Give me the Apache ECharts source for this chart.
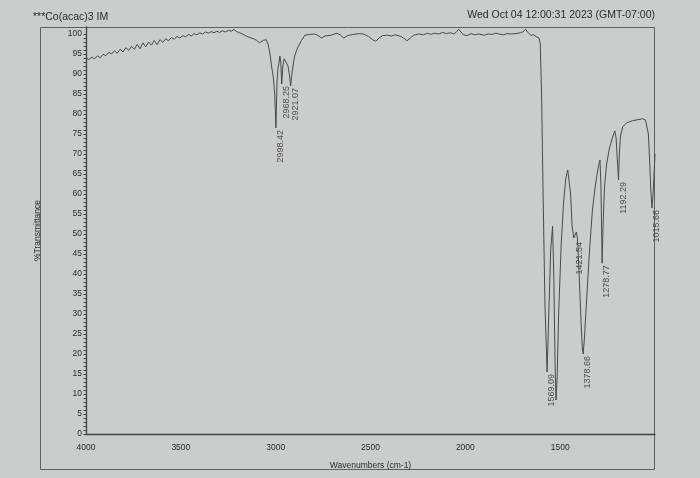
<!DOCTYPE html>
<html><head><meta charset="utf-8">
<script src="https://cdn.jsdelivr.net/npm/echarts@6/dist/echarts.min.js"></script>
<style>html,body{margin:0;padding:0;background:#c9cdcb;}#c{width:700px;height:478px;}</style>
</head><body><div id="c"></div>
<script>
// Spectrum trace (wavenumber, %T)
const wavenumbers = [
4000,3985,3970,3955,3940,3925,3910,3895,3880,3865,3850,3835,3820,3805,3790,3775,3760,3745,3730,3715,
3700,3685,3670,3655,3640,3625,3610,3595,3580,3565,3550,3535,3520,3505,3490,3475,3460,3445,3430,3415,
3400,3385,3370,3355,3340,3325,3310,3295,3280,3265,3250,3235,3220,3205,3190,3175,3160,3145,3130,3115,
3100,3085,3075,3065,3050,3040,3030,3020,3012,3005,2998.42,2993,2988,2983,2978,2973,2968.25,2962,2955,2945,
2935,2928,2921.07,2912,2900,2885,2865,2846,2820,2795,2775,2759,2740,2708,2690,2677,2660,2641,2620,2590,
2560,2538,2510,2490,2472,2455,2436,2410,2390,2369,2340,2320,2308,2290,2272,2246,2220,2200,2180,2164,
2140,2120,2100,2077,2060,2045,2035,2026,2010,1990,1970,1950,1930,1900,1880,1860,1840,1821,1800,1780,
1760,1733,1710,1695,1682,1672,1662,1656,1640,1625,1612,1605,1598,1590,1580,1569.09,1560,1550,1540,1533,
1527,1522,1516,1508,1495,1482,1470,1460,1452,1445,1437,1428,1421.54,1415,1409,1400,1390,1383,1378.66,1372,
1360,1345,1330,1315,1300,1290,1285,1281,1278.77,1274,1266,1255,1240,1225,1212,1205,1198,1192.29,1188,1182,
1170,1150,1120,1090,1065,1050,1042,1035,1028,1022,1015.66,1010,1005,1000];
const transmittance = [
94.0,93.6,94.2,93.8,94.5,94.1,94.9,94.6,95.4,95.0,95.8,95.2,96.2,95.5,96.6,95.9,96.9,96.2,97.4,96.3,
97.8,96.8,98.0,97.2,98.4,97.3,98.6,97.9,98.8,98.3,99.1,98.7,99.4,99.0,99.6,99.3,99.9,99.5,100.1,99.8,
100.3,100.0,100.5,100.2,100.6,100.3,100.7,100.4,100.8,100.5,100.9,100.7,101.1,100.6,100.3,100.0,99.6,99.3,99.0,98.8,
98.4,97.8,97.6,98.4,98.6,97.5,95.0,91.5,89.0,85.0,76.5,88.0,91.5,92.5,94.5,93.0,87.5,92.0,93.8,93.5,
92.0,90.0,87.0,91.0,94.5,96.5,98.3,99.7,99.9,100.0,99.6,99.0,99.5,99.7,100.0,100.2,99.8,99.0,99.6,99.9,
100.1,100.0,99.4,98.6,98.2,99.0,99.6,99.7,99.5,99.8,99.4,98.8,98.3,99.0,99.7,100.0,99.8,100.2,99.9,100.2,
100.0,100.4,100.1,100.3,100.0,100.6,101.2,100.7,99.8,99.6,100.1,99.8,100.0,99.7,100.0,99.9,100.2,100.0,99.8,100.1,
100.0,100.1,100.3,100.6,101.2,100.5,100.1,99.7,99.8,99.3,99.0,97.5,85.0,60.0,32.0,15.5,30.0,46.0,52.0,38.0,
18.0,8.5,14.0,30.0,47.0,58.0,64.0,66.0,65.5,60.0,52.0,49.0,48.5,50.5,49.0,40.0,28.0,21.5,20.0,24.0,
34.0,46.0,56.0,62.0,66.5,68.5,62.0,50.0,42.7,52.0,62.0,67.5,71.5,74.0,75.8,74.0,68.0,63.5,70.0,74.5,
76.8,77.8,78.3,78.6,78.8,78.5,78.0,75.0,68.0,61.0,56.5,60.0,65.0,70.0];
// Peak picks
const peakWavenumbers = [2998.42,2968.25,2921.07,1569.09,1421.54,1378.66,1278.77,1192.29,1015.66];
const peakTransmittance = [76.5,87.5,87.0,15.5,48.5,20.0,42.7,63.5,56.5];
const peakLabels = ['2998.42','2968.25','2921.07','1569.09','1421.54','1378.66','1278.77','1192.29','1015.66'];
// Axis ticks
const xTickLabels = [4000,3500,3000,2500,2000,1500];
const yTickLabels = [0,5,10,15,20,25,30,35,40,45,50,55,60,65,70,75,80,85,90,95,100];

const yMinor = [];
for (let v = 0; v <= 100; v++) yMinor.push(v);
const traceData = wavenumbers.map((w, i) => [w, transmittance[i]]);
const peakData = peakWavenumbers.map((w, i) => [w, peakTransmittance[i]]);

const FONT = 'Liberation Sans';
const TXT = '#2b2d2c';
const AX = '#3f4342';
const chart = echarts.init(document.getElementById('c'), null, {renderer: 'canvas'});
chart.setOption({
  animation: false,
  backgroundColor: '#c9cdcb',
  textStyle: {fontFamily: FONT},
  title: [
    {text: '***Co(acac)3 IM', left: 28, top: 7, textStyle: {fontSize: 10.5, fontWeight: 'normal', color: TXT, fontFamily: FONT}},
    {text: 'Wed Oct 04 12:00:31 2023 (GMT-07:00)', right: 40, top: 5, textStyle: {fontSize: 10.5, fontWeight: 'normal', color: TXT, fontFamily: FONT}}
  ],
  graphic: [{
    type: 'rect', silent: true,
    shape: {x: 40.5, y: 27.5, width: 614, height: 442},
    style: {fill: 'none', stroke: '#5d6160', lineWidth: 1}
  }],
  grid: {left: 86, right: 45, top: 27, bottom: 44},
  xAxis: {
    type: 'value', inverse: true, min: 1000, max: 4000, interval: 500,
    name: 'Wavenumbers (cm-1)', nameLocation: 'middle', nameGap: 27,
    nameTextStyle: {fontSize: 8.5, color: TXT, fontFamily: FONT},
    axisLine: {lineStyle: {color: AX, width: 1.3}},
    axisTick: {show: false},
    axisLabel: {customValues: xTickLabels, fontSize: 8.5, color: TXT, margin: 9, fontFamily: FONT,
      formatter: v => String(v)},
    splitLine: {show: false}
  },
  yAxis: {
    type: 'value', min: 0, max: 101.75,
    name: '%Transmittance', nameLocation: 'middle', nameGap: 44, nameRotate: 90,
    nameTextStyle: {fontSize: 8.5, color: TXT, fontFamily: FONT},
    axisLine: {show: true, lineStyle: {color: AX, width: 1.3}},
    axisTick: {show: true, customValues: yMinor, length: 2.5, lineStyle: {color: AX}},
    axisLabel: {customValues: yTickLabels, fontSize: 8.5, color: TXT, margin: 4, fontFamily: FONT,
      formatter: v => String(v)},
    splitLine: {show: false}
  },
  series: [
    {type: 'line', data: traceData, showSymbol: false, symbol: 'none',
     lineStyle: {color: '#474b4a', width: 1}, z: 3},
    {type: 'scatter', data: peakData, symbolSize: 0, z: 4,
     label: {show: true, position: 'bottom', distance: 2, rotate: 90, align: 'right', verticalAlign: 'top',
       fontSize: 9, color: TXT, fontFamily: FONT,
       formatter: p => peakLabels[p.dataIndex]}}
  ]
});
</script></body></html>
